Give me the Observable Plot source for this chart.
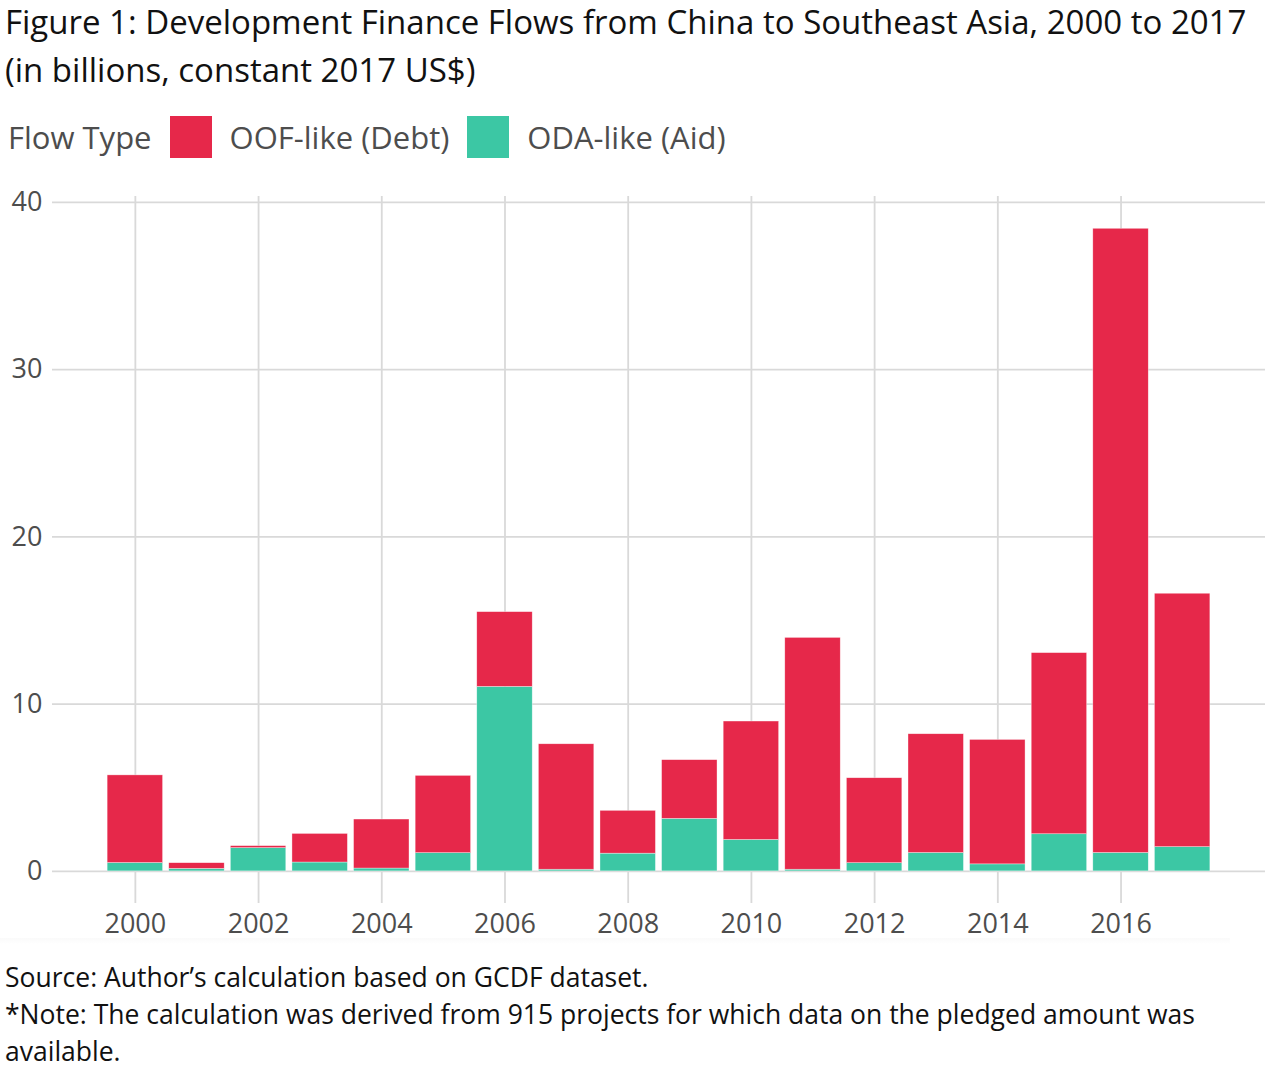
<!DOCTYPE html>
<html>
<head>
<meta charset="utf-8">
<script src="https://cdn.jsdelivr.net/npm/d3@7"></script>
<script src="https://cdn.jsdelivr.net/npm/@observablehq/plot@0.6"></script>
<style>
  html, body { margin: 0; padding: 0; background: #fff; }
  body { width: 1280px; height: 1079px; position: relative; font-family: "Open Sans", sans-serif; overflow: hidden; }
  #title { position: absolute; left: 5px; top: -2px; font-size: 33px; line-height: 48px; color: #111; white-space: nowrap; }
  #legend { position: absolute; left: 8px; top: 116px; height: 42px; display: flex; align-items: center; font-size: 31px; color: #4d4d4d; }
  #legend .sw { width: 42px; height: 42px; display: inline-block; }
  #chart { position: absolute; left: 0; top: 170px; }
  #shade { position: absolute; left: 0; top: 938px; width: 1230px; height: 6px; background: linear-gradient(#fafafa, #ffffff); }
  #caption { position: absolute; left: 5px; top: 959px; font-size: 26.5px; line-height: 37px; color: #111; width: 1230px; }
</style>
</head>
<body>
<div id="title">Figure 1: Development Finance Flows from China to Southeast Asia, 2000 to 2017<br>(in billions, constant 2017 US$)</div>
<div id="legend"></div>
<div id="chart"></div>
<div id="shade"></div>
<div id="caption">Source: Author’s calculation based on GCDF dataset.<br>*Note: The calculation was derived from 915 projects for which data on the pledged amount was available.</div>
<script>
// Data
const years = [2000, 2001, 2002, 2003, 2004, 2005, 2006, 2007, 2008, 2009, 2010, 2011, 2012, 2013, 2014, 2015, 2016, 2017];
const odaAid = [0.50, 0.15, 1.39, 0.53, 0.17, 1.09, 11.03, 0.10, 1.06, 3.14, 1.88, 0.10, 0.49, 1.10, 0.42, 2.22, 1.10, 1.45];
const oofDebt = [5.24, 0.34, 0.12, 1.71, 2.93, 4.62, 4.47, 7.50, 2.56, 3.51, 7.08, 13.86, 5.08, 7.10, 7.44, 10.83, 37.32, 15.15];
const flowTypes = ["OOF-like (Debt)", "ODA-like (Aid)"];
const flowColors = ["#E6284A", "#3CC7A4"];
const xTicks = [2000, 2002, 2004, 2006, 2008, 2010, 2012, 2014, 2016];
const yTicks = [0, 10, 20, 30, 40];

// Legend
const legend = document.getElementById("legend");
legend.innerHTML = `<span style="margin-right:18px">Flow Type</span>` +
  flowTypes.map((t, i) => `<span class="sw" style="background:${flowColors[i]}"></span><span style="margin-left:18px;margin-right:18px">${t}</span>`).join("");

// Table built from arrays (aid first so it stacks at the bottom)
const table = years.flatMap((yr, i) => [
  {year: yr, type: flowTypes[1], value: odaAid[i]},
  {year: yr, type: flowTypes[0], value: oofDebt[i]}
]);

const gridStyle = {stroke: "#d9d9d9", strokeOpacity: 1, strokeWidth: 1.8};

const chart = Plot.plot({
  width: 1280,
  height: 770,
  marginLeft: 52,
  marginRight: 15,
  marginTop: 26,
  marginBottom: 37,
  style: {fontFamily: "Open Sans, sans-serif", fontSize: "27px", color: "#4d4d4d", background: "transparent"},
  x: {domain: [1998.655, 2018.345], label: null},
  y: {domain: [-1.92, 40.35], label: null},
  color: {domain: flowTypes, range: flowColors},
  marks: [
    Plot.gridX(xTicks, gridStyle),
    Plot.gridY(yTicks, gridStyle),
    Plot.rectY(table, {
      x1: d => d.year - 0.45,
      x2: d => d.year + 0.45,
      y: "value",
      fill: "type",
      stroke: "#ffffff",
      strokeOpacity: 0.6,
      strokeWidth: 0.6
    }),
    Plot.axisX(xTicks, {tickSize: 0, tickPadding: 10, tickFormat: d => String(d), fill: "#4d4d4d", fontSize: 27, label: null}),
    Plot.axisY(yTicks, {tickSize: 0, tickPadding: 10, fill: "#4d4d4d", fontSize: 27, label: null})
  ]
});
document.getElementById("chart").appendChild(chart);
</script>
</body>
</html>
